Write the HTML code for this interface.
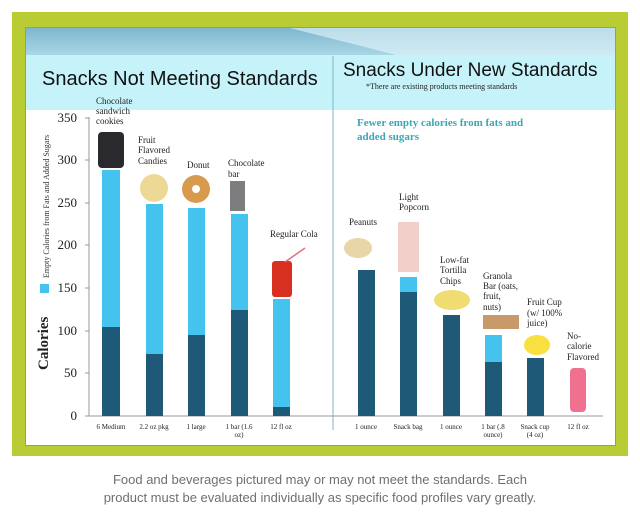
<!DOCTYPE html>
<html><head><meta charset="utf-8"><style>
body{margin:0;background:#fff;width:640px;height:520px;overflow:hidden}
svg{display:block}
</style></head><body>
<svg width="640" height="520" viewBox="0 0 640 520" font-family="Liberation Serif, serif">
<defs>
<linearGradient id="hd" x1="0" y1="0" x2="0" y2="1"><stop offset="0" stop-color="#7fb6cf"/><stop offset="1" stop-color="#a9d8e6"/></linearGradient>
</defs>
<rect x="12" y="12" width="616" height="444" fill="#b9cc33"/>
<rect x="25" y="27" width="591" height="419" fill="#8a9aa0"/>
<rect x="26" y="28" width="589" height="417" fill="#fff"/>
<rect x="26" y="28" width="589" height="28" fill="url(#hd)"/>
<path d="M290 28 L615 28 L615 56 L400 56 Z" fill="#e8f6fb" opacity="0.6"/>
<rect x="26" y="55" width="589" height="55" fill="#c6f3fa"/>
<line x1="333" y1="56" x2="333" y2="430" stroke="#7fb5c8" stroke-width="1"/>
<text x="42" y="85" font-family="Liberation Sans, sans-serif" font-size="20" fill="#111">Snacks Not Meeting Standards</text>
<text x="343" y="76" font-family="Liberation Sans, sans-serif" font-size="19" fill="#111">Snacks Under New Standards</text>
<text x="366" y="89" font-size="8" fill="#222">*There are existing products meeting standards</text>
<text x="357" y="126" font-size="11" font-weight="bold" fill="#3aa7b5">Fewer empty calories from fats and</text>
<text x="357" y="140" font-size="11" font-weight="bold" fill="#3aa7b5">added sugars</text>
<!-- axes -->
<line x1="89" y1="117" x2="89" y2="416" stroke="#999"/>
<line x1="89" y1="416" x2="603" y2="416" stroke="#999"/>
<g font-size="13" fill="#222" text-anchor="end">
<text x="77" y="420">0</text><text x="77" y="377">50</text><text x="77" y="335">100</text>
<text x="77" y="292">150</text><text x="77" y="249">200</text><text x="77" y="207">250</text>
<text x="77" y="164">300</text><text x="77" y="122">350</text>
</g>
<g stroke="#999"><line x1="85" y1="416" x2="89" y2="416"/><line x1="85" y1="373" x2="89" y2="373"/><line x1="85" y1="331" x2="89" y2="331"/><line x1="85" y1="288" x2="89" y2="288"/><line x1="85" y1="245" x2="89" y2="245"/><line x1="85" y1="203" x2="89" y2="203"/><line x1="85" y1="160" x2="89" y2="160"/><line x1="85" y1="118" x2="89" y2="118"/></g>
<rect x="40" y="284" width="9" height="9" fill="#45c3ef"/>
<text transform="translate(49,278) rotate(-90)" font-size="8" fill="#333">Empty Calories from Fats and Added Sugars</text>
<text transform="translate(48,370) rotate(-90)" font-size="15" font-weight="bold" fill="#222">Calories</text>
<g>
<rect x="102" y="170" width="18" height="246" fill="#45c3ef"/><rect x="102" y="327" width="18" height="89" fill="#1e5a78"/>
<rect x="146" y="204" width="17" height="212" fill="#45c3ef"/><rect x="146" y="354" width="17" height="62" fill="#1e5a78"/>
<rect x="188" y="208" width="17" height="208" fill="#45c3ef"/><rect x="188" y="335" width="17" height="81" fill="#1e5a78"/>
<rect x="231" y="214" width="17" height="202" fill="#45c3ef"/><rect x="231" y="310" width="17" height="106" fill="#1e5a78"/>
<rect x="273" y="299" width="17" height="117" fill="#45c3ef"/><rect x="273" y="407" width="17" height="9" fill="#1e5a78"/>
<rect x="358" y="270" width="17" height="146" fill="#1e5a78"/>
<rect x="400" y="277" width="17" height="139" fill="#45c3ef"/><rect x="400" y="292" width="17" height="124" fill="#1e5a78"/>
<rect x="443" y="315" width="17" height="101" fill="#1e5a78"/>
<rect x="485" y="335" width="17" height="81" fill="#45c3ef"/><rect x="485" y="362" width="17" height="54" fill="#1e5a78"/>
<rect x="527" y="358" width="17" height="58" fill="#1e5a78"/>
</g>
<rect x="98" y="132" width="26" height="36" rx="4" fill="#2a2a2e"/>
<circle cx="154" cy="188" r="14" fill="#e9d07a" opacity="0.8"/>
<circle cx="196" cy="189" r="14" fill="#d89a4c"/><circle cx="196" cy="189" r="4" fill="#fff"/>
<rect x="230" y="181" width="15" height="30" fill="#7d7d80"/>
<rect x="272" y="261" width="20" height="36" rx="3" fill="#d83020"/>
<line x1="285" y1="262" x2="305" y2="248" stroke="#e07080" stroke-width="1.5"/>
<ellipse cx="358" cy="248" rx="14" ry="10" fill="#e8d6a8"/>
<rect x="398" y="222" width="21" height="50" fill="#f0d0c8"/>
<ellipse cx="452" cy="300" rx="18" ry="10" fill="#f0dc70"/>
<rect x="483" y="315" width="36" height="14" fill="#c89a6a"/>
<ellipse cx="537" cy="345" rx="13" ry="10" fill="#f7e040"/>
<rect x="570" y="368" width="16" height="44" rx="4" fill="#f07090"/>
<g font-size="9" fill="#222">
<text x="96" y="104">Chocolate</text><text x="96" y="114">sandwich</text><text x="96" y="124">cookies</text>
<text x="138" y="143">Fruit</text><text x="138" y="153">Flavored</text><text x="138" y="164">Candies</text>
<text x="187" y="168">Donut</text>
<text x="228" y="166">Chocolate</text><text x="228" y="177">bar</text>
<text x="270" y="237">Regular Cola</text>
<text x="349" y="225">Peanuts</text>
<text x="399" y="200">Light</text><text x="399" y="210">Popcorn</text>
<text x="440" y="263">Low-fat</text><text x="440" y="273">Tortilla</text><text x="440" y="284">Chips</text>
<text x="483" y="279">Granola</text><text x="483" y="289">Bar (oats,</text><text x="483" y="299">fruit,</text><text x="483" y="310">nuts)</text>
<text x="527" y="305">Fruit Cup</text><text x="527" y="316">(w/ 100%</text><text x="527" y="326">juice)</text>
<text x="567" y="339">No-</text><text x="567" y="349">calorie</text><text x="567" y="360">Flavored</text>
</g>
<g font-size="7" fill="#222" text-anchor="middle">
<text x="111" y="429">6 Medium</text><text x="154" y="429">2.2 oz pkg</text><text x="196" y="429">1 large</text>
<text x="239" y="429">1 bar (1.6</text><text x="239" y="437">oz)</text><text x="281" y="429">12 fl oz</text>
<text x="366" y="429">1 ounce</text><text x="408" y="429">Snack bag</text><text x="451" y="429">1 ounce</text>
<text x="493" y="429">1 bar (.8</text><text x="493" y="437">ounce)</text>
<text x="535" y="429">Snack cup</text><text x="535" y="437">(4 oz)</text><text x="578" y="429">12 fl oz</text>
</g>
<g font-family="Liberation Sans, sans-serif" font-size="13" fill="#6f6f6f" text-anchor="middle">
<text x="320" y="484">Food and beverages pictured may or may not meet the standards. Each</text>
<text x="320" y="502">product must be evaluated individually as specific food profiles vary greatly.</text>
</g>
</svg>
</body></html>
